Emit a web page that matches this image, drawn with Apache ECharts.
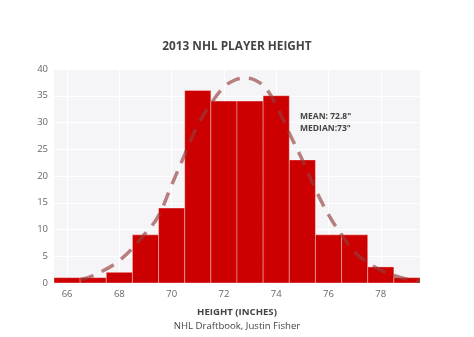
<!DOCTYPE html>
<html>
<head>
<meta charset="utf-8">
<script src="https://cdn.jsdelivr.net/npm/echarts@6/dist/echarts.min.js"></script>
<style>html,body{margin:0;padding:0;background:#fff}#c{width:474px;height:337px}</style>
</head>
<body>
<div id="c"></div>
<script>
var heights = [66, 67, 68, 69, 70, 71, 72, 73, 74, 75, 76, 77, 78, 79];
var counts = [1, 1, 2, 9, 14, 36, 34, 34, 35, 23, 9, 9, 3, 1];
var curveX = [66.5, 67, 68, 69, 69.5, 70, 70.5, 71, 71.5, 72, 72.4, 72.8, 73.2, 73.6, 74, 74.5, 75, 75.5, 76, 76.5, 77, 77.5, 78, 78.5, 79, 79.5];
var curveY = [0.6, 1.4, 4.2, 9.3, 12.6, 18.3, 24, 29.5, 33.5, 36.6, 37.9, 38.3, 37.9, 36.4, 33.2, 28, 23, 17.5, 12.8, 9, 5.8, 3.8, 2.4, 1.4, 0.7, 0.3];
var xTicks = [66, 68, 70, 72, 74, 76, 78];
var yTicks = [0, 5, 10, 15, 20, 25, 30, 35, 40];

var font = '"Open Sans", "Noto Sans", sans-serif';
var chart = echarts.init(document.getElementById('c'), null, {renderer: 'canvas'});
var barData = heights.map(function (h, i) { return [h, counts[i]]; });
var curveData = curveX.map(function (x, i) { return [x, curveY[i]]; });

chart.setOption({
  animation: false,
  backgroundColor: '#fff',
  textStyle: {fontFamily: font},
  title: {
    text: '2013 NHL PLAYER HEIGHT',
    left: 'center', top: 36,
    textStyle: {fontFamily: font, fontSize: 11.8, fontWeight: 'bold', color: '#444'}
  },
  grid: {left: 54, right: 54, top: 69, bottom: 54, show: true, backgroundColor: '#f5f5f7', borderWidth: 0},
  xAxis: {
    type: 'value', min: 65.5, max: 79.5,
    axisLine: {show: false},
    axisTick: {show: false, customValues: xTicks},
    axisLabel: {customValues: xTicks, color: '#666', fontSize: 9.5, fontFamily: font, margin: 6},
    splitLine: {show: true, lineStyle: {color: '#ffffff', width: 1}},
    name: '{a|HEIGHT (INCHES)}\n{b|NHL Draftbook, Justin Fisher}',
    nameLocation: 'middle', nameGap: 22,
    nameTextStyle: {
      rich: {
        a: {fontFamily: font, fontSize: 9.6, fontWeight: 'bold', color: '#444', lineHeight: 14},
        b: {fontFamily: font, fontSize: 9.6, color: '#444', lineHeight: 14}
      }
    }
  },
  yAxis: {
    type: 'value', min: 0, max: 40, interval: 5,
    axisLine: {show: false}, axisTick: {show: false},
    axisLabel: {color: '#666', fontSize: 9.5, fontFamily: font, margin: 6},
    splitLine: {show: true, lineStyle: {color: '#ffffff', width: 1}}
  },
  series: [
    {
      type: 'custom',
      data: barData,
      renderItem: function (params, api) {
        var x = api.value(0), y = api.value(1);
        var p0 = api.coord([x - 0.5, y]);
        var p1 = api.coord([x + 0.5, 0]);
        return {
          type: 'rect',
          shape: {x: p0[0], y: p0[1], width: p1[0] - p0[0], height: p1[1] - p0[1]},
          style: {fill: '#cc0000', stroke: 'rgba(255,255,255,0.35)', lineWidth: 1}
        };
      },
      encode: {x: 0, y: 1},
      z: 2
    },
    {
      type: 'line',
      data: curveData,
      smooth: 0.4,
      symbol: 'none',
      lineStyle: {color: 'rgba(150,60,60,0.65)', width: 3.5, type: [14, 9]},
      z: 3
    }
  ],
  graphic: [{
    type: 'text', left: 300, top: 111, z: 10,
    style: {
      text: 'MEAN: 72.8"\nMEDIAN:73"',
      font: 'bold 8.5px ' + font, fill: '#444', lineHeight: 12
    }
  }]
});
</script>
</body>
</html>
